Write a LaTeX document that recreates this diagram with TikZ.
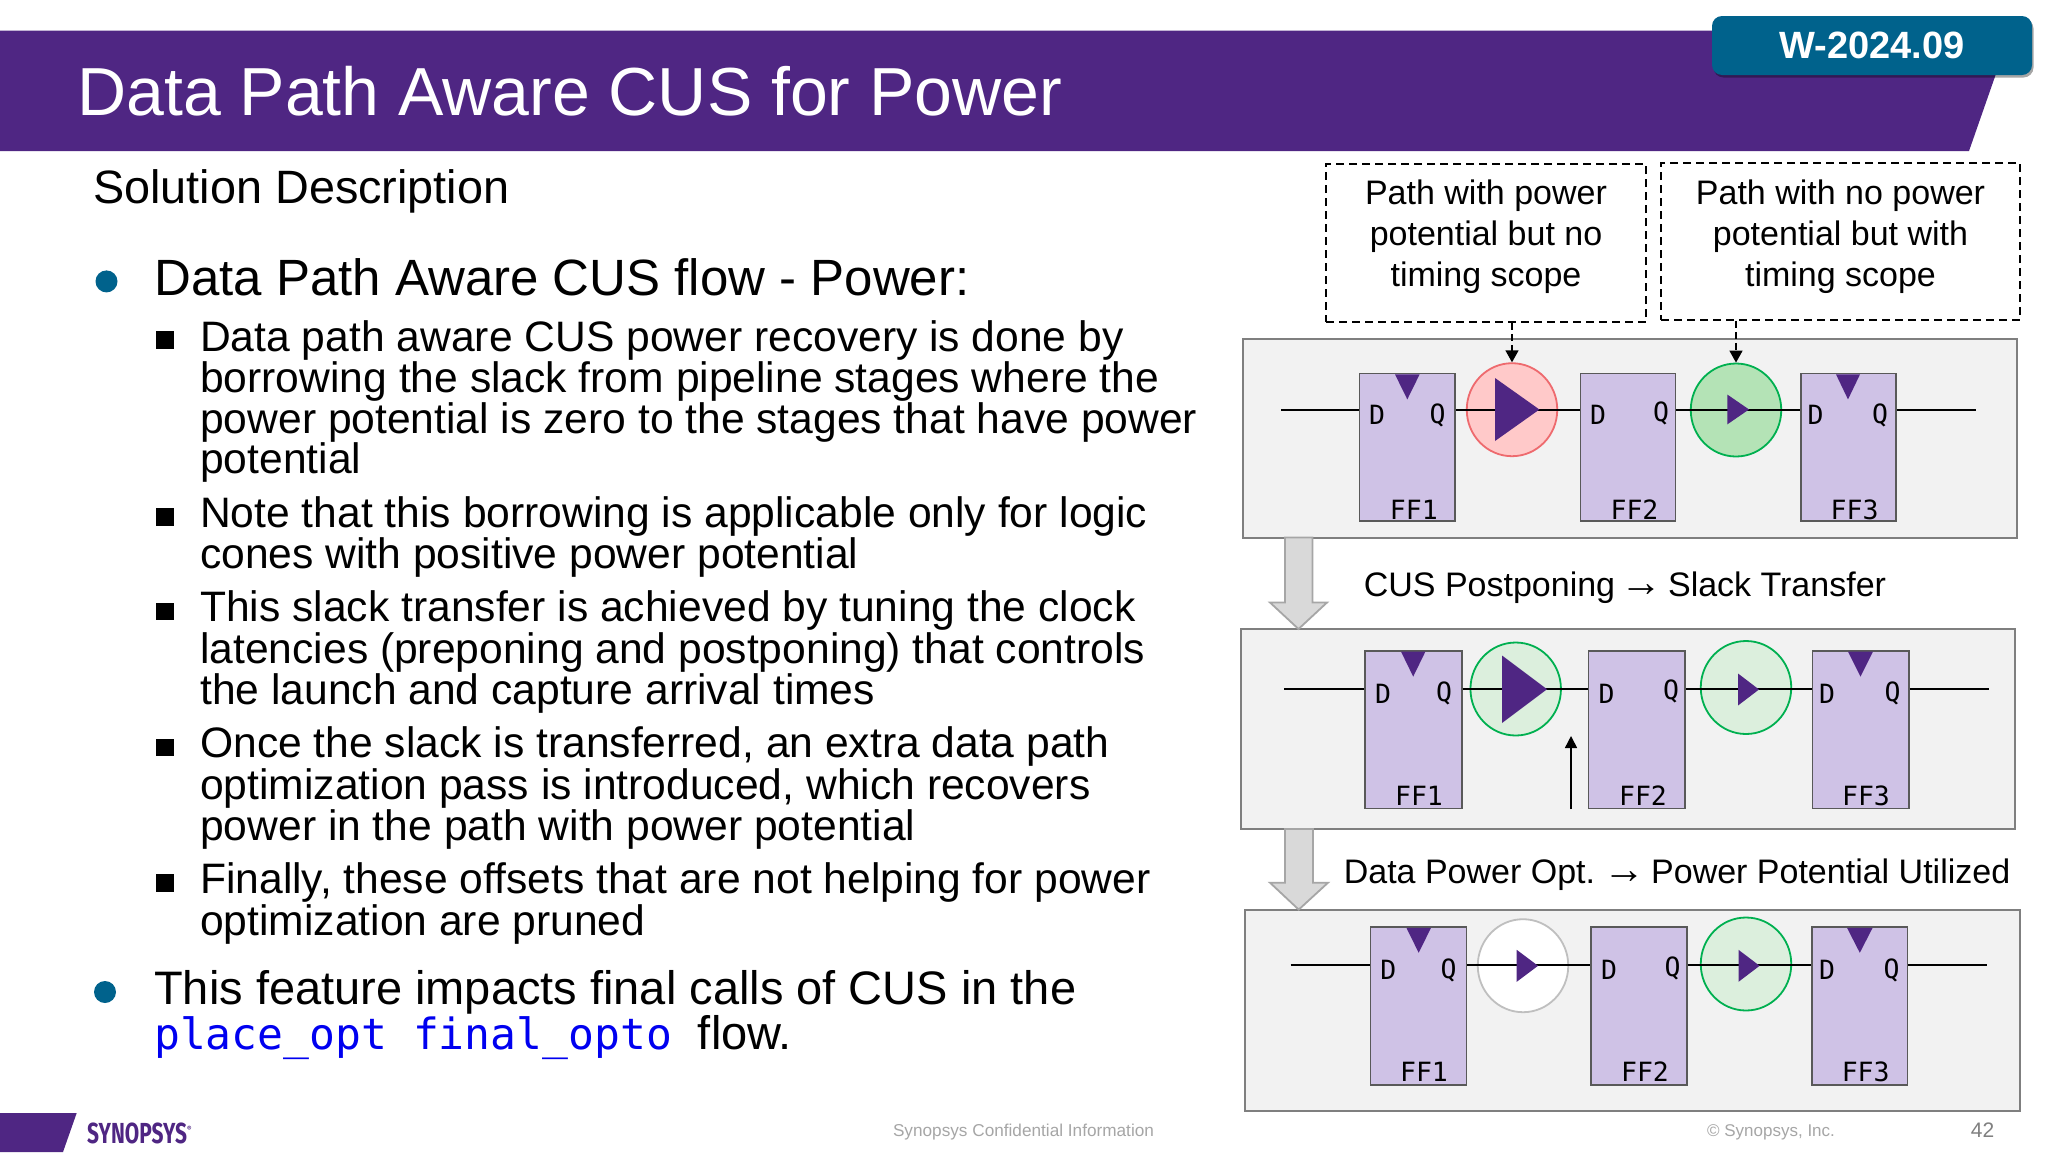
\documentclass[tikz,border=0pt]{standalone}
\usepackage{fontspec}
\usepackage{graphicx}
\setmainfont{Liberation Sans}
\newfontfamily\monof{DejaVu Sans Mono}
\newfontfamily\logof{Fira Sans}
\usetikzlibrary{arrows.meta,shadows,shapes.geometric,calc}
\definecolor{synpurple}{HTML}{4F2683}
\definecolor{badgeblue}{HTML}{00628C}
\definecolor{panelfill}{HTML}{F2F2F2}
\definecolor{panelline}{HTML}{7F7F7F}
\definecolor{fffill}{HTML}{CFC2E6}
\definecolor{ffline}{HTML}{595959}
\definecolor{pinkfill}{HTML}{FFC9C9}
\definecolor{pinkline}{HTML}{EE6A6E}
\definecolor{greenfill}{HTML}{B4E3B6}
\definecolor{palegreen}{HTML}{DCEFDD}
\definecolor{greenline}{HTML}{00B050}
\definecolor{arrowfill}{HTML}{D9D9D9}
\definecolor{arrowline}{HTML}{A6A6A6}
\definecolor{codeblue}{HTML}{0000F0}
\newcommand{\rarrowglyph}{\hspace{-4pt}{\fontsize{42}{42}\selectfont →}\hspace{-4pt}}
\tikzset{
  panel/.style={draw=panelline,line width=2pt,fill=panelfill,inner sep=0pt},
  ffbox/.style={draw=ffline,line width=1.6pt,fill=fffill,inner sep=0pt},
  wire/.style={draw=black,line width=1.9pt},
  tri/.style={fill=synpurple,draw=none},
  gatebase/.style={ellipse,inner sep=0pt,minimum width=90.5pt,minimum height=93pt,line width=1.8pt},
  gatepink/.style={gatebase,draw=pinkline,fill=pinkfill},
  gategreen/.style={gatebase,draw=greenline,fill=greenfill},
  gatepale/.style={gatebase,draw=greenline,fill=palegreen},
  gatewhite/.style={gatebase,draw=black!25,fill=white},
  dashbox/.style={draw=black,line width=1.9pt,dash pattern=on 8pt off 5pt,inner sep=0pt},
  dashlink/.style={draw=black,line width=1.5pt,dash pattern=on 7pt off 4pt,-{Triangle[length=12pt,width=13pt]}},
  bigarrow/.style={draw=arrowline,line width=1.8pt,fill=arrowfill},
  pinlabel/.style={font=\monof\fontsize{26.5}{26.5}\selectfont,text=black,inner sep=0pt},
  captext/.style={font=\fontsize{34}{41}\selectfont,text=black,inner sep=0pt,anchor=west},
  body/.style={font=\fontsize{42.6}{43}\selectfont,text=black,inner sep=0pt,anchor=base west},
  lead/.style={font=\fontsize{47}{47}\selectfont,text=black,inner sep=0pt,anchor=base west},
  note/.style={align=center,font=\fontsize{34}{41}\selectfont,text=black,inner sep=0pt},
  bul/.style={ellipse,fill=badgeblue,inner sep=0pt,minimum width=22pt,minimum height=22pt},
  sq/.style={rectangle,fill=black,inner sep=0pt,minimum size=17.5pt},
}
\newcommand{\ffunit}[5]{% name x0 x1 y0 y1
  \node[ffbox,minimum width=#3pt-#2pt,minimum height=#5pt-#4pt] (#1) at ({(#2+#3)/2},{(#4+#5)/2}) {};}
\newcommand{\rtri}[4]{\fill[tri] (#1,#3) -- (#2,{(#3+#4)/2}) -- (#1,#4) -- cycle;}
\newcommand{\dtri}[3]{\fill[tri] (#1,#3) -- (#2,#3) -- ({(#1+#2)/2},{#3+25}) -- cycle;}
\newcommand{\plabel}[4]{\node[pinlabel] (#1) at (#2,#3) {#4};}
\begin{document}
\begin{tikzpicture}[x=1pt,y=-1pt]
\useasboundingbox (0,0) rectangle (2048,1152);
\fill[white] (0,0) rectangle (2048,1152);
% header
\fill[synpurple] (0,30.7) -- (2011,30.7) -- (1969,151) -- (0,151) -- cycle;
\node[font=\fontsize{68}{68}\selectfont,text=white,anchor=base west,inner sep=0pt] (title) at (77,115) {Data Path Aware CUS for Power};
\node[fill=badgeblue,rounded corners=10pt,minimum width=320pt,minimum height=59pt,inner sep=0pt,
  drop shadow={shadow xshift=1.5pt,shadow yshift=-2.5pt,opacity=.35,fill=black},
  text=white,font=\bfseries\fontsize{38}{38}\selectfont] (badge) at (1872,45.5) {W-2024.09};
% footer
\fill[synpurple] (0,1113) -- (76.7,1113) -- (63,1152) -- (0,1152) -- cycle;
\node[font=\logof\bfseries\fontsize{29}{29}\selectfont,text=synpurple,anchor=base west,inner sep=0pt] (logo) at (87,1143) {\scalebox{0.72}[1]{SYNOPSYS}\raisebox{12pt}{\fontsize{7}{7}\selectfont ®}};
\node[font=\fontsize{17.2}{17}\selectfont,text=black!35,inner sep=0pt] (conf) at (1023.5,1132) {Synopsys Confidential Information};
\node[font=\fontsize{17}{17}\selectfont,text=black!35,inner sep=0pt] (copy) at (1771,1132) {© Synopsys, Inc.};
\node[font=\fontsize{21}{21}\selectfont,text=black!50,inner sep=0pt] (pg) at (1982.5,1130) {42};
% left text
\node[font=\fontsize{46.8}{47}\selectfont,anchor=base west,inner sep=0pt,text=black] (sol) at (93,203.5) {Solution Description};
\node[bul] (b1) at (106.5,281.4) {};
\node[lead,font=\fontsize{51}{51}\selectfont] (t1) at (154,295) {Data Path Aware CUS flow - Power:};
\foreach \n/\yy/\tx in {
 a1/351/{Data path aware CUS power recovery is done by},
 a2/392.2/{borrowing the slack from pipeline stages where the},
 a3/433.2/{power potential is zero to the stages that have power},
 a4/473.5/{potential},
 c1/527.2/{Note that this borrowing is applicable only for logic},
 c2/568/{cones with positive power potential},
 d1/621.5/{This slack transfer is achieved by tuning the clock},
 d2/663/{latencies (preponing and postponing) that controls},
 d3/704.3/{the launch and capture arrival times},
 e1/757.5/{Once the slack is transferred, an extra data path},
 e2/799/{optimization pass is introduced, which recovers},
 e3/840.2/{power in the path with power potential},
 f1/893.6/{Finally, these offsets that are not helping for power},
 f2/935/{optimization are pruned}}
 {\node[body] (\n) at (200,\yy) {\tx};}
\foreach \n/\yy in {s1/340,s2/517,s3/611.5,s4/747.5,s5/883}
 {\node[sq] (\n) at (164.8,\yy) {};}
\node[bul] (b2) at (105,992) {};
\node[lead] (t2) at (154,1004) {This feature impacts final calls of CUS in the};
\node[lead] (t3) at (154,1049) {{\monof\color{codeblue}\fontsize{43}{43}\selectfont place\_opt final\_opto}\hspace{26pt}flow.};
% dashed notes
\node[dashbox,minimum width=320pt,minimum height=158pt] (n1) at (1486,243) {};
\node[note] (n1t) at (1486,237) {Path with power\\potential but no\\timing scope};
\node[dashbox,minimum width=359pt,minimum height=157pt] (n2) at (1840.5,241.5) {};
\node[note] (n2t) at (1840.5,237) {Path with no power\\potential but with\\timing scope};
% panels
\node[panel,minimum width=774pt,minimum height=198.5pt] (p1) at (1630,438.3) {};
\node[panel,minimum width=774pt,minimum height=200.5pt] (p2) at (1628,728.8) {};
\node[panel,minimum width=775pt,minimum height=201pt] (p3) at (1632.8,1010.5) {};
% block arrows
\draw[bigarrow] (1285,537.5) -- (1285,602.5) -- (1270,602.5) -- (1298.5,629) -- (1327,602.5) -- (1312.4,602.5) -- (1312.4,537.5) -- cycle;
\draw[bigarrow] (1285,829) -- (1285,882.7) -- (1270,882.7) -- (1298.7,909.6) -- (1328,882.7) -- (1313,882.7) -- (1313,829) -- cycle;
\node[captext] (lab1) at (1363.6,587.5) {CUS Postponing \rarrowglyph{} Slack Transfer};
\node[captext] (lab2) at (1343.6,875) {Data Power Opt. \rarrowglyph{} Power Potential Utilized};
% row 1
\node[gatepink] (g11) at (1512,409.7) {};
\node[gategreen] (g12) at (1736,410) {};
\coordinate (w1a) at (1281,409.6); \coordinate (w1b) at (1976,409.6);
\ffunit{f11}{1359.5}{1455}{373.6}{520.7}
\ffunit{f12}{1580.5}{1675.6}{373.6}{520.7}
\ffunit{f13}{1801}{1896}{373.6}{520.7}
\draw[wire] (w1a) -- (f11.west |- w1a) (f11.east |- w1a) -- (f12.west |- w1a) (f12.east |- w1a) -- (f13.west |- w1a) (f13.east |- w1a) -- (w1b);
\rtri{1495}{1539.4}{378}{441}
\rtri{1727.4}{1749}{394.6}{424.3}
\dtri{1395}{1419.6}{374.4}
\dtri{1836}{1860}{374.4}
\plabel{d11}{1377}{415}{D}\plabel{q11}{1437.5}{415}{Q}
\plabel{d12}{1598}{415}{D}\plabel{q12}{1661}{413.5}{Q}
\plabel{d13}{1815.6}{415}{D}\plabel{q13}{1880}{415}{Q}
\plabel{l11}{1413.8}{509.6}{FF1}\plabel{l12}{1634.5}{509.6}{FF2}\plabel{l13}{1854.6}{509.6}{FF3}
\draw[dashlink] (n1.south -| g11.north) -- (g11.north);
\draw[dashlink] (n2.south -| g12.north) -- (g12.north);
% row 2
\node[gatepale] (g21) at (1515.7,689) {};
\node[gatepale] (g22) at (1746,687.5) {};
\coordinate (w2a) at (1284,689); \coordinate (w2b) at (1989,689);
\ffunit{f21}{1364.7}{1461.8}{650.8}{808.5}
\ffunit{f22}{1588.5}{1685}{650.8}{808.5}
\ffunit{f23}{1812.4}{1909}{650.8}{808.5}
\draw[wire] (w2a) -- (f21.west |- w2a) (f21.east |- w2a) -- (f22.west |- w2a) (f22.east |- w2a) -- (f23.west |- w2a) (f23.east |- w2a) -- (w2b);
\rtri{1502}{1547}{655.5}{723}
\rtri{1738}{1759}{673.5}{705.5}
\dtri{1401}{1425.4}{651.6}
\dtri{1848}{1873}{651.6}
\plabel{d21}{1383}{693.5}{D}\plabel{q21}{1444}{693.5}{Q}
\plabel{d22}{1606.5}{693.5}{D}\plabel{q22}{1671}{691.5}{Q}
\plabel{d23}{1827}{693.5}{D}\plabel{q23}{1892.6}{693.5}{Q}
\plabel{l21}{1419}{795.6}{FF1}\plabel{l22}{1643}{795.6}{FF2}\plabel{l23}{1866}{795.6}{FF3}
\coordinate (up0) at (1571,809); \coordinate (up1) at (1571,736);
\draw[draw=black,line width=1.6pt,-{Triangle[length=12pt,width=12pt]}] (up0) -- (up1);
% row 3
\node[gatewhite] (g31) at (1523,965.7) {};
\node[gatepale] (g32) at (1746,964) {};
\coordinate (w3a) at (1290.7,965.4); \coordinate (w3b) at (1986.6,965.4);
\ffunit{f31}{1370.5}{1466.6}{927}{1085}
\ffunit{f32}{1591}{1686.7}{927}{1085}
\ffunit{f33}{1812}{1907.4}{927}{1085}
\draw[wire] (w3a) -- (f31.west |- w3a) (f31.east |- w3a) -- (f32.west |- w3a) (f32.east |- w3a) -- (f33.west |- w3a) (f33.east |- w3a) -- (w3b);
\rtri{1516.7}{1538}{949.8}{981.8}
\rtri{1738.5}{1759.6}{949.8}{981.8}
\dtri{1406.4}{1431}{927.8}
\dtri{1847}{1872.6}{927.8}
\plabel{d31}{1388.4}{970}{D}\plabel{q31}{1448.6}{970}{Q}
\plabel{d32}{1609}{970}{D}\plabel{q32}{1672.5}{968.4}{Q}
\plabel{d33}{1827}{970}{D}\plabel{q33}{1891.6}{970}{Q}
\plabel{l31}{1424}{1071.6}{FF1}\plabel{l32}{1645}{1071.6}{FF2}\plabel{l33}{1865.7}{1071.6}{FF3}
\end{tikzpicture}
\end{document}
